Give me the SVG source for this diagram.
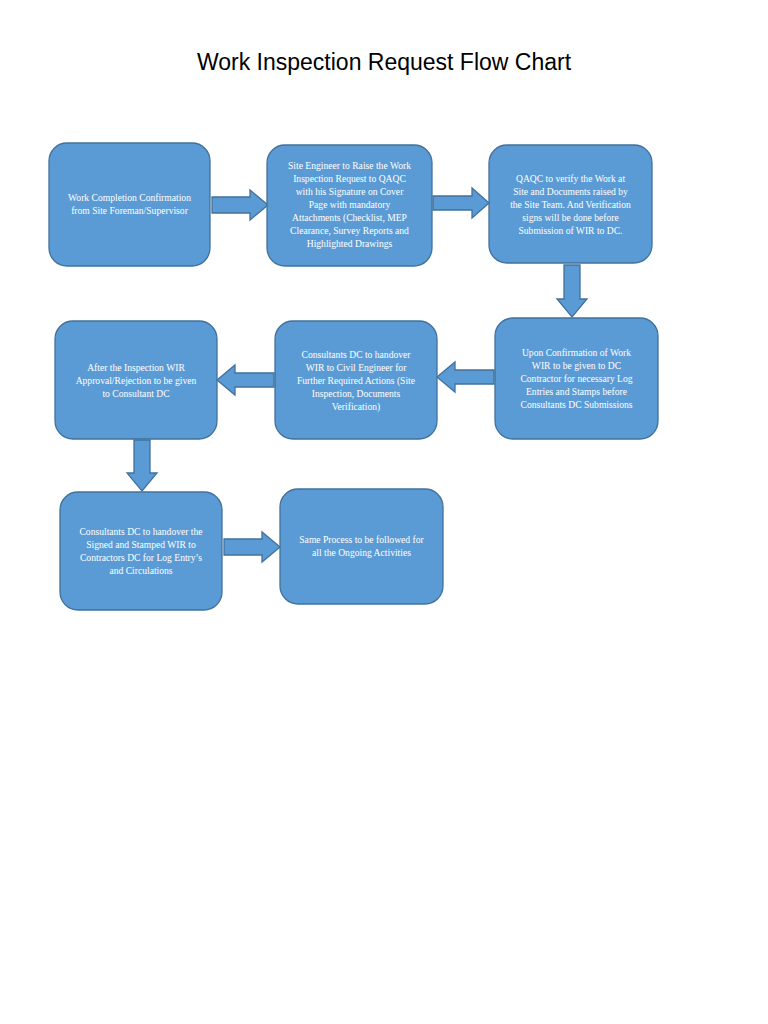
<svg xmlns="http://www.w3.org/2000/svg" width="768" height="1024" viewBox="0 0 768 1024">
<style>
.b{fill:#5b9bd5;stroke:#41719c;stroke-width:1.3}
.t{font-family:"Liberation Serif",serif;font-size:9.6px;fill:#fff;text-anchor:middle}
.h{font-family:"Liberation Sans",Arial,sans-serif;font-size:23px;fill:#000;text-anchor:middle}
</style>
<rect width="768" height="1024" fill="#fff"/>
<text class="h" x="384" y="70">Work Inspection Request Flow Chart</text>
<g id="connectors">
<polygon class="b" points="212,197 250,197 250,190 268,205 250,220 250,213 212,213"/>
<polygon class="b" points="433,196 472,196 472,188 489,203 472,218 472,210 433,210"/>
<polygon class="b" points="564,265 580,265 580,299 587,299 572,317 557,299 564,299"/>
<polygon class="b" points="494,370 455,370 455,362 437,377 455,392 455,384 494,384"/>
<polygon class="b" points="274,373 235,373 235,365 217,380 235,395 235,387 274,387"/>
<polygon class="b" points="134,440 150,440 150,473 157,473 142,491 127,473 134,473"/>
<polygon class="b" points="224,539 262,539 262,532 280,547 262,562 262,555 224,555"/>
</g>
<g id="n1"><rect class="b" x="49" y="143" width="161" height="123" rx="18"/>
<text class="t" x="129.5" y="201">Work Completion Confirmation</text><text class="t" x="129.5" y="214">from Site Foreman/Supervisor</text></g>
<g id="n2"><rect class="b" x="267" y="145" width="165" height="121" rx="18"/>
<text class="t" x="349.5" y="169">Site Engineer to Raise the Work</text>
<text class="t" x="349.5" y="182">Inspection Request to QAQC</text>
<text class="t" x="349.5" y="195">with his Signature on Cover</text>
<text class="t" x="349.5" y="208">Page with mandatory</text>
<text class="t" x="349.5" y="221">Attachments (Checklist, MEP</text>
<text class="t" x="349.5" y="234">Clearance, Survey Reports and</text>
<text class="t" x="349.5" y="247">Highlighted Drawings</text></g>
<g id="n3"><rect class="b" x="489" y="145" width="163" height="118" rx="18"/>
<text class="t" x="570.5" y="182">QAQC to verify the Work at</text>
<text class="t" x="570.5" y="195">Site and Documents raised by</text>
<text class="t" x="570.5" y="208">the Site Team. And Verification</text>
<text class="t" x="570.5" y="221">signs will be done before</text>
<text class="t" x="570.5" y="234">Submission of WIR to DC.</text></g>
<g id="n4"><rect class="b" x="495" y="318" width="163" height="121" rx="18"/>
<text class="t" x="576.5" y="356">Upon Confirmation of Work</text>
<text class="t" x="576.5" y="369">WIR to be given to DC</text>
<text class="t" x="576.5" y="382">Contractor for necessary Log</text>
<text class="t" x="576.5" y="395">Entries and Stamps before</text>
<text class="t" x="576.5" y="408">Consultants DC Submissions</text></g>
<g id="n5"><rect class="b" x="275" y="321" width="162" height="118" rx="18"/>
<text class="t" x="356" y="358">Consultants DC to handover</text>
<text class="t" x="356" y="371">WIR to Civil Engineer for</text>
<text class="t" x="356" y="384">Further Required Actions (Site</text>
<text class="t" x="356" y="397">Inspection, Documents</text>
<text class="t" x="356" y="410">Verification)</text></g>
<g id="n6"><rect class="b" x="55" y="321" width="162" height="118" rx="18"/>
<text class="t" x="136" y="371">After the Inspection WIR</text>
<text class="t" x="136" y="384">Approval/Rejection to be given</text>
<text class="t" x="136" y="397">to Consultant DC</text></g>
<g id="n7"><rect class="b" x="60" y="492" width="162" height="118" rx="18"/>
<text class="t" x="141" y="535">Consultants DC to handover the</text>
<text class="t" x="141" y="548">Signed and Stamped WIR to</text>
<text class="t" x="141" y="561">Contractors DC for Log Entry’s</text>
<text class="t" x="141" y="574">and Circulations</text></g>
<g id="n8"><rect class="b" x="280" y="489" width="163" height="115" rx="18"/>
<text class="t" x="361.5" y="543">Same Process to be followed for</text>
<text class="t" x="361.5" y="556">all the Ongoing Activities</text></g>
</svg>
